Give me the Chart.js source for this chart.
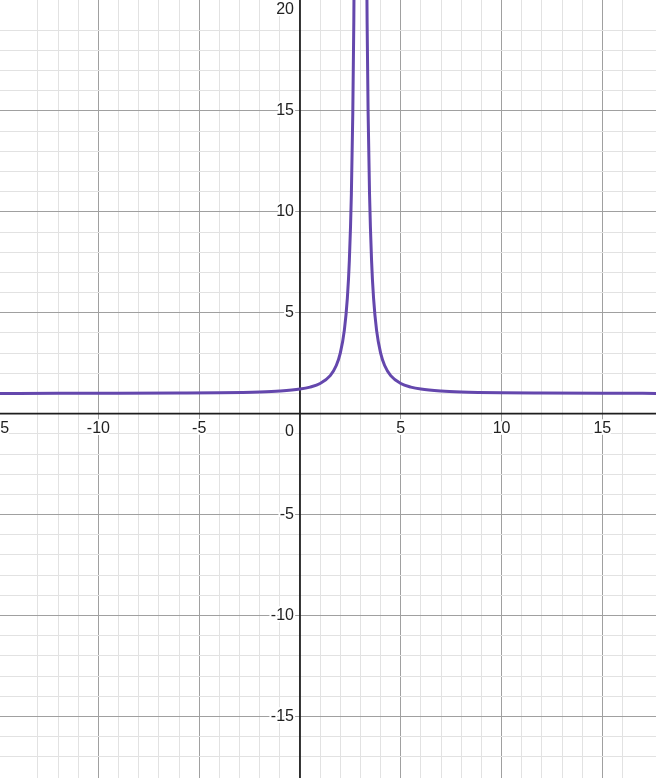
<!DOCTYPE html>
<html>
<head>
<meta charset="utf-8">
<script src="https://cdn.jsdelivr.net/npm/chart.js@4.4.1/dist/chart.umd.min.js"></script>
<style>
  body { margin: 0; background: #fff; }
</style>
</head>
<body>
<canvas id="graph" width="656" height="778"></canvas>
<script>
// curve, split at the asymptote x = 3
const leftX  = [-15, -12, -9, -6, -4, -2, -1, 0, 0.5, 1, 1.5, 1.8, 2, 2.2, 2.35, 2.45, 2.55, 2.62, 2.67, 2.72, 2.76]
const leftY  = [1.006, 1.009, 1.014, 1.025, 1.04, 1.08, 1.125, 1.22, 1.32, 1.5, 1.89, 2.39, 3.0, 4.13, 5.73, 7.61, 10.9, 14.9, 19.4, 26.5, 35.7]
const rightX = [3.24, 3.28, 3.33, 3.38, 3.45, 3.55, 3.65, 3.8, 4, 4.2, 4.5, 5, 5.5, 6, 7, 8, 10, 12, 15, 18]
const rightY = [35.7, 26.5, 19.4, 14.9, 10.9, 7.61, 5.73, 4.13, 3.0, 2.39, 1.89, 1.5, 1.32, 1.22, 1.125, 1.08, 1.04, 1.025, 1.014, 1.006]

// axis labels
const xTickLabels = [-15, -10, -5, 5, 10, 15]
const yTickLabels = [-15, -10, -5, 5, 10, 15, 20]
const originLabel = '0'

const xRange = [-14.88, 17.66]
const yRange = [-18.05, 20.5]

const curveColor = '#6447ad'

function toPoints(xs, ys) {
    return xs.map((x, i) => ({ x: x, y: ys[i] }))
}

function gridColor(ctx) {
    const v = ctx.tick.value
    if (!Number.isInteger(v) || v === 0) return 'rgba(0,0,0,0)'
    return v % 5 === 0 ? '#a0a0a0' : '#e2e2e2'
}

// axes and the labels sitting along them, Desmos style
const axesPlugin = {
    id: 'axes',
    beforeDatasetsDraw(chart) {
        const c = chart.ctx
        const xs = chart.scales.x
        const ys = chart.scales.y
        const area = chart.chartArea
        const x0 = xs.getPixelForValue(0)
        const y0 = ys.getPixelForValue(0)

        c.save()
        c.strokeStyle = '#1e1e1e'
        c.lineWidth = 1.8
        c.beginPath()
        c.moveTo(area.left, y0)
        c.lineTo(area.right, y0)
        c.moveTo(x0, area.top)
        c.lineTo(x0, area.bottom)
        c.stroke()

        c.font = '16px "Liberation Sans", Arial, sans-serif'
        c.fillStyle = '#222'
        c.strokeStyle = '#fff'
        c.lineWidth = 4
        c.lineJoin = 'round'

        c.textAlign = 'center'
        c.textBaseline = 'middle'
        xTickLabels.forEach((v) => {
            const px = xs.getPixelForValue(v)
            c.strokeText(String(v), px, y0 + 15)
            c.fillText(String(v), px, y0 + 15)
        })

        c.textAlign = 'right'
        yTickLabels.forEach((v) => {
            const py = ys.getPixelForValue(v)
            c.strokeText(String(v), x0 - 6, py)
            c.fillText(String(v), x0 - 6, py)
        })

        c.strokeText(originLabel, x0 - 6, y0 + 18)
        c.fillText(originLabel, x0 - 6, y0 + 18)
        c.restore()
    }
}

const lineStyle = {
    showLine: true,
    borderColor: curveColor,
    borderWidth: 3,
    pointRadius: 0,
    cubicInterpolationMode: 'monotone',
    fill: false
}

const config = {
    type: 'scatter',
    data: {
        datasets: [
            Object.assign({ label: 'left', data: toPoints(leftX, leftY) }, lineStyle),
            Object.assign({ label: 'right', data: toPoints(rightX, rightY) }, lineStyle)
        ]
    },
    options: {
        responsive: false,
        animation: false,
        layout: { padding: 0 },
        plugins: {
            legend: { display: false },
            tooltip: { enabled: false }
        },
        scales: {
            x: {
                type: 'linear',
                min: xRange[0],
                max: xRange[1],
                ticks: { display: false, stepSize: 1 },
                grid: { color: gridColor, lineWidth: 1, drawTicks: false },
                border: { display: false }
            },
            y: {
                type: 'linear',
                min: yRange[0],
                max: yRange[1],
                ticks: { display: false, stepSize: 1 },
                grid: { color: gridColor, lineWidth: 1, drawTicks: false },
                border: { display: false }
            }
        }
    },
    plugins: [axesPlugin]
}

new Chart(document.getElementById('graph'), config)
</script>
</body>
</html>
